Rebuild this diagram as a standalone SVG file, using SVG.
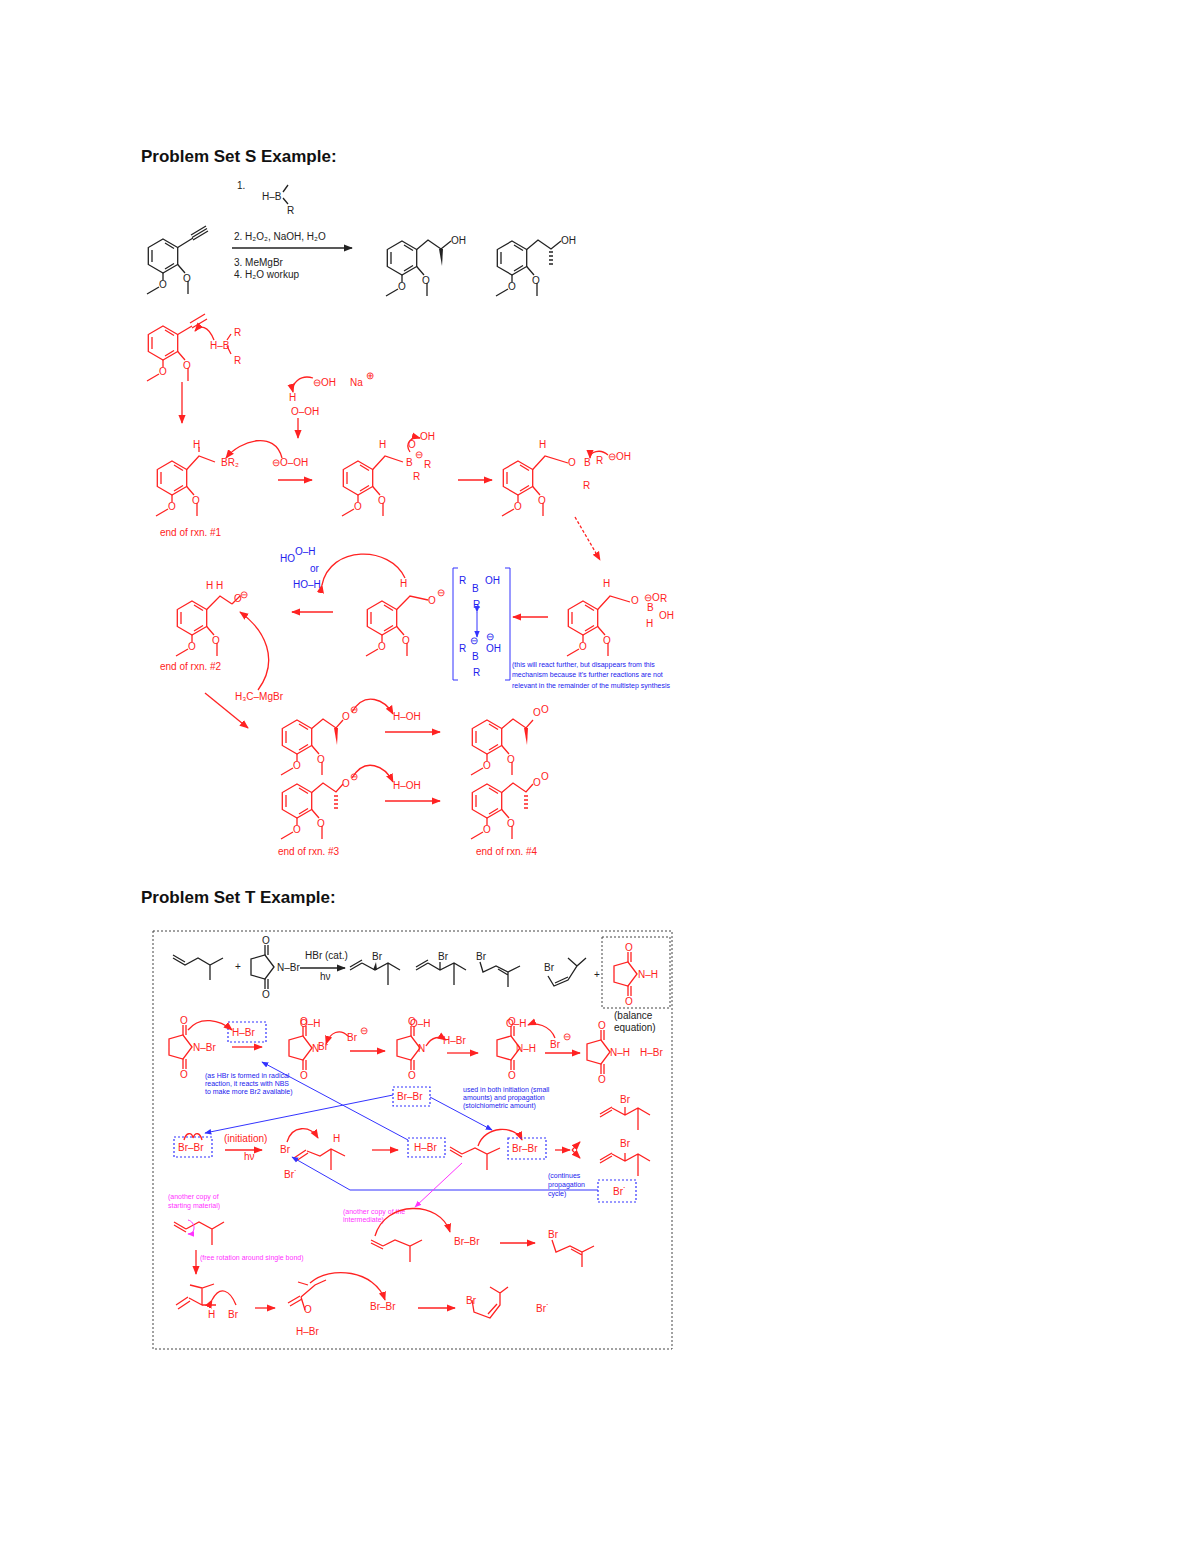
<svg xmlns="http://www.w3.org/2000/svg" width="1200" height="1553" viewBox="0 0 1200 1553">
<style>
text{font-family:"Liberation Sans",Arial,sans-serif;font-size:10px}
.h{font-size:17px;font-weight:bold;fill:#111}
.k{stroke:#222;fill:none;stroke-width:1.3}
.r{stroke:#f22;fill:none;stroke-width:1.3}
.b{stroke:#33f;fill:none;stroke-width:1}
.m{stroke:#f3f;fill:none;stroke-width:1}
.tk{fill:#222}.tr{fill:#f22}.tb{fill:#22e;font-size:7px}.tm{fill:#f3f;font-size:7px}
.bx{stroke:#33f;fill:none;stroke-dasharray:2 2;stroke-width:1.2}
</style>
<defs>
<marker id="ak" viewBox="0 0 10 10" refX="9" refY="5" markerWidth="7" markerHeight="7" orient="auto"><path d="M0,1 L10,5 L0,9 z" fill="#222"/></marker>
<marker id="arr" viewBox="0 0 10 10" refX="9" refY="5" markerWidth="7" markerHeight="7" orient="auto"><path d="M0,1 L10,5 L0,9 z" fill="#f22"/></marker>
<marker id="abb" viewBox="0 0 10 10" refX="9" refY="5" markerWidth="7" markerHeight="7" orient="auto"><path d="M0,1 L10,5 L0,9 z" fill="#33f"/></marker>
<marker id="amm" viewBox="0 0 10 10" refX="9" refY="5" markerWidth="7" markerHeight="7" orient="auto"><path d="M0,1 L10,5 L0,9 z" fill="#f3f"/></marker>
<g id="aryl" fill="none" stroke="currentColor" stroke-width="1.3">
<polygon points="0,-17 14.7,-8.5 14.7,8.5 0,17 -14.7,8.5 -14.7,-8.5"/>
<path d="M-11,-6 V6 M2,-13 L11,-7.5 M2,13 L11,7.5"/>
<path d="M14.7,8.5 L22,17 M25,25 V38 M0,17 V24 M-4,31 L-16,38"/>
<text x="20" y="26" fill="currentColor" stroke="none">O</text>
<text x="-4" y="32" fill="currentColor" stroke="none">O</text>
</g>
<g id="succ" fill="none" stroke="currentColor" stroke-width="1.3">
<polygon points="12,0 3,-12 -11,-8 -11,8 3,12"/>
<path d="M3,-12 V-22 M6,-12 V-22 M3,12 V22 M6,12 V22"/>
<text x="0" y="-23" fill="currentColor" stroke="none">O</text>
<text x="0" y="31" fill="currentColor" stroke="none">O</text>
</g>
</defs>

<text class="h" x="141" y="162">Problem Set S Example:</text>
<text class="h" x="141" y="903">Problem Set T Example:</text>

<!-- Problem S top reaction -->
<g id="sm" color="#222">
<use href="#aryl" x="163" y="256"/>
<path class="k" d="M177.7,247.5 L193,238 M191,235 L206,226 M193,240 L208,231 M192,237.5 L207,228.5"/>
</g>
<g id="reagent">
<text class="tk" x="237" y="189" font-size="8">1.</text>
<text class="tk" x="262" y="200">H–B</text>
<path class="k" d="M283,192 L288,185 M283,198 L288,204"/>
<text class="tk" x="287" y="214">R</text>
<text class="tk" x="234" y="240">2. H₂O₂, NaOH, H₂O</text>
<path class="k" d="M232,248 H352" marker-end="url(#ak)"/>
<text class="tk" x="234" y="266">3. MeMgBr</text>
<text class="tk" x="234" y="278">4. H₂O workup</text>
</g>
<g id="prod1" color="#222">
<use href="#aryl" x="402" y="258"/>
<path class="k" d="M416.7,249.5 L428,240 L441,249 L451,241"/>
<path d="M439,249 L443,249 L442,266 z" fill="#222"/>
<text class="tk" x="451" y="244">OH</text>
</g>
<g id="prod2" color="#222">
<use href="#aryl" x="512" y="258"/>
<path class="k" d="M526.7,249.5 L538,240 L551,249 L561,241"/>
<path class="k" d="M549,252 H553 M549,256 H553 M549,260 H553 M549,264 H553" stroke-width="1"/>
<text class="tk" x="561" y="244">OH</text>
</g>

<!-- Mechanism S -->
<g id="s1" color="#f22">
<use href="#aryl" x="163" y="343"/>
<path class="r" d="M177.7,334.5 L192,326 M190,323 L205,314 M192,328 L207,319"/>
<text class="tr" x="210" y="349">H–B</text>
<text class="tr" x="234" y="336">R</text><text class="tr" x="234" y="364">R</text>
<path class="r" d="M227,340 L231,334 M227,346 L231,354"/>
<path class="r" d="M214,340 C208,325 200,325 195,331" marker-end="url(#arr)"/>
</g>
<path class="r" d="M182,382 V423" marker-end="url(#arr)"/>
<g id="s_naoh">
<text class="tr" x="313" y="386">⊖OH</text><text class="tr" x="350" y="386">Na</text><text class="tr" x="366" y="379" font-size="8">⊕</text>
<path class="r" d="M313,378 C300,374 291,384 293,392" marker-end="url(#arr)"/>
<text class="tr" x="289" y="401">H</text>
<text class="tr" x="291" y="415">O–OH</text>
<path class="r" d="M298,418 V438" marker-end="url(#arr)"/>
</g>
<g id="s2" color="#f22">
<use href="#aryl" x="172" y="478"/>
<path class="r" d="M186.7,469.5 L199,456 L215,462 M199,452 V447"/>
<text class="tr" x="193" y="448">H</text><text class="tr" x="221" y="466">BR₂</text>
<text class="tr" x="272" y="466">⊖O–OH</text>
<path class="r" d="M282,458 C275,430 240,440 226,458" marker-end="url(#arr)"/>
<text class="tr" x="160" y="536">end of rxn. #1</text>
</g>
<path class="r" d="M278,480 H312" marker-end="url(#arr)"/>
<g id="s3" color="#f22">
<use href="#aryl" x="358" y="478"/>
<path class="r" d="M372.7,469.5 L385,456 L403,462"/>
<text class="tr" x="379" y="448">H</text><text class="tr" x="408" y="448">O</text><text class="tr" x="420" y="440">OH</text>
<text class="tr" x="406" y="466">B</text><text class="tr" x="415" y="458" font-size="8">⊖</text><text class="tr" x="424" y="468">R</text><text class="tr" x="413" y="480">R</text>
<path class="r" d="M410,452 C404,443 412,436 420,438" marker-end="url(#arr)"/>
</g>
<path class="r" d="M458,480 H492" marker-end="url(#arr)"/>
<g id="s4" color="#f22">
<use href="#aryl" x="518" y="478"/>
<path class="r" d="M532.7,469.5 L545,456 L568,463"/>
<text class="tr" x="539" y="448">H</text><text class="tr" x="568" y="466">O</text><text class="tr" x="584" y="466">B</text>
<text class="tr" x="596" y="464">R</text><text class="tr" x="608" y="460">⊖OH</text><text class="tr" x="583" y="489">R</text>
<path class="r" d="M608,455 C600,448 590,452 590,458" marker-end="url(#arr)"/>
</g>
<path class="r" d="M575,517 L600,560" stroke-dasharray="3 2" marker-end="url(#arr)"/>
<g id="s5" color="#f22">
<use href="#aryl" x="583" y="618"/>
<path class="r" d="M597.7,609.5 L610,596 L630,602"/>
<text class="tr" x="603" y="587">H</text><text class="tr" x="631" y="604">O</text><text class="tr" x="644" y="601">⊖O</text>
<text class="tr" x="647" y="611">B</text><text class="tr" x="660" y="602">R</text><text class="tr" x="659" y="619">OH</text><text class="tr" x="646" y="627">H</text>
</g>
<path class="r" d="M548,617 H513" marker-end="url(#arr)"/>
<g id="bracket">
<path class="b" d="M458,568 H453 V680 H458 M505,568 H510 V680 H505"/>
<text fill="#22e" x="459" y="584">R</text><text fill="#22e" x="472" y="592">B</text><text fill="#22e" x="485" y="584">OH</text><text fill="#22e" x="473" y="608">R</text>
<path class="b" d="M477,612 V637" marker-end="url(#abb)" marker-start="url(#abb)"/>
<text fill="#22e" x="459" y="652">R</text><text fill="#22e" x="470" y="644">⊖</text><text fill="#22e" x="486" y="640">⊖</text>
<text fill="#22e" x="486" y="652">OH</text><text fill="#22e" x="472" y="660">B</text><text fill="#22e" x="473" y="676">R</text>
<text class="tb" x="512" y="667">(this will react further, but disappears from this</text>
<text class="tb" x="512" y="677">mechanism because it's further reactions are not</text>
<text class="tb" x="512" y="688">relevant in the remainder of the multistep synthesis</text>
</g>
<g id="s_hooh">
<text fill="#22e" x="280" y="562">HO</text><text fill="#22e" x="295" y="555">O–H</text>
<text fill="#22e" x="310" y="572">or</text>
<text fill="#22e" x="293" y="588">HO–H</text>
<path class="r" d="M322,585 C330,545 390,545 405,578" marker-start="url(#arr)"/>
</g>
<g id="s6" color="#f22">
<use href="#aryl" x="382" y="618"/>
<path class="r" d="M396.7,609.5 L410,596 L428,600"/>
<text class="tr" x="400" y="587">H</text><text class="tr" x="428" y="604">O</text><text class="tr" x="437" y="596" font-size="8">⊖</text>
</g>
<path class="r" d="M333,612 H292" marker-end="url(#arr)"/>
<g id="s7" color="#f22">
<use href="#aryl" x="192" y="618"/>
<path class="r" d="M206.7,609.5 L220,596 L232,604 M232,604 L240,596"/>
<text class="tr" x="206" y="589">H H</text><text class="tr" x="234" y="602">O</text><text class="tr" x="240" y="598" font-size="8">⊖</text>
<text class="tr" x="160" y="670">end of rxn. #2</text>
<text class="tr" x="235" y="700">H₃C–MgBr</text>
<path class="r" d="M258,690 C280,660 265,630 240,612" marker-end="url(#arr)"/>
</g>
<path class="r" d="M205,693 L248,728" marker-end="url(#arr)"/>
<g id="s8" color="#f22">
<use href="#aryl" x="297" y="737"/>
<path class="r" d="M311.7,728.5 L323,719 L336,728 L343,720"/>
<path d="M334,728 L338,728 L337,745 z" fill="#f22"/>
<text class="tr" x="342" y="720">O</text><text class="tr" x="350" y="713" font-size="8">⊖</text>
<path class="r" d="M352,712 C365,690 385,700 393,714" marker-end="url(#arr)"/>
<text class="tr" x="393" y="720">H–OH</text>
<path class="r" d="M385,732 H440" marker-end="url(#arr)"/>
</g>
<g id="s9" color="#f22">
<use href="#aryl" x="487" y="737"/>
<path class="r" d="M501.7,728.5 L513,719 L526,728 L533,720"/>
<path d="M524,728 L528,728 L527,745 z" fill="#f22"/>
<text class="tr" x="533" y="716">O</text><text class="tr" x="541" y="713">O</text>
</g>
<g id="s10" color="#f22">
<use href="#aryl" x="297" y="801"/>
<path class="r" d="M311.7,792.5 L323,783 L336,792 L343,784"/>
<path class="r" d="M334,796 H338 M334,800 H338 M334,804 H338 M334,808 H338" stroke-width="1"/>
<text class="tr" x="342" y="787">O</text><text class="tr" x="350" y="780" font-size="8">⊖</text>
<path class="r" d="M352,778 C365,756 385,766 393,782" marker-end="url(#arr)"/>
<text class="tr" x="393" y="789">H–OH</text>
<path class="r" d="M385,801 H440" marker-end="url(#arr)"/>
<text class="tr" x="278" y="855">end of rxn. #3</text>
</g>
<g id="s11" color="#f22">
<use href="#aryl" x="487" y="801"/>
<path class="r" d="M501.7,792.5 L513,783 L526,792 L533,784"/>
<path class="r" d="M524,796 H528 M524,800 H528 M524,804 H528 M524,808 H528" stroke-width="1"/>
<text class="tr" x="533" y="786">O</text><text class="tr" x="541" y="780">O</text>
<text class="tr" x="476" y="855">end of rxn. #4</text>
</g>

<!-- Problem T -->
<rect x="153" y="931" width="519" height="418" fill="none" stroke="#444" stroke-dasharray="2 2"/>
<rect x="602" y="937" width="68" height="71" fill="none" stroke="#444" stroke-dasharray="2 2"/>
<g id="t_top" color="#222">
<path class="k" d="M173,955 L185,962 M173,958 L185,965 L198,958 L210,965 L223,958 M210,965 V980"/>
<text class="tk" x="235" y="970" font-size="7">+</text>
<use href="#succ" x="262" y="967"/>
<text class="tk" x="277" y="971">N–Br</text>
<path class="k" d="M300,968 H345" marker-end="url(#ak)"/>
<text class="tk" x="305" y="959" font-size="8">HBr (cat.)</text><text class="tk" x="320" y="980" font-size="8">hν</text>
<path class="k" d="M350,970 L362,963 M350,967 L362,960 M362,963 L375,970 L388,963 L400,970 M388,963 V985"/>
<path d="M373,970 L377,970 L376,962 z" fill="#222"/><text class="tk" x="372" y="960">Br</text>
<path class="k" d="M416,970 L428,963 M416,967 L428,960 M428,963 L440,970 L454,963 L466,970 M454,963 V985 M440,970 V962"/>
<text class="tk" x="438" y="960">Br</text>
<path class="k" d="M480,962 L483,972 L496,966 L508,972 L520,966 M498,969 L508,975 M508,972 V987"/><text class="tk" x="476" y="960">Br</text>
<path class="k" d="M548,976 L554,986 L568,980 L577,966 L586,958 M555,983 L568,977 M577,966 L568,958"/><text class="tk" x="544" y="971">Br</text>
<text class="tk" x="594" y="978">+</text>
</g>
<g id="t_prod" color="#f22">
<use href="#succ" x="625" y="974"/>
<text class="tr" x="638" y="978">N–H</text>
<text class="tk" x="614" y="1019" font-size="9">(balance</text><text class="tk" x="614" y="1031" font-size="9">equation)</text>
</g>
<g id="t_r2" color="#f22">
<use href="#succ" x="180" y="1047"/>
<text class="tr" x="193" y="1051">N–Br</text>
<rect class="bx" x="228" y="1022" width="38" height="20"/><text class="tr" x="232" y="1036">H–Br</text>
<path class="r" d="M188,1030 C200,1015 220,1020 232,1030" marker-end="url(#arr)"/>
<path class="r" d="M232,1047 H262" marker-end="url(#arr)"/>
<use href="#succ" x="300" y="1048"/>
<text class="tr" x="300" y="1027">O–H</text><text class="tr" x="312" y="1052">N</text><text class="tr" x="318" y="1050">Br</text>
<text class="tr" x="347" y="1041">Br</text><text class="tr" x="360" y="1034" font-size="8">⊖</text>
<path class="r" d="M348,1036 C340,1028 330,1032 326,1044" marker-end="url(#arr)"/>
<path class="r" d="M350,1051 H385" marker-end="url(#arr)"/>
<use href="#succ" x="408" y="1048"/>
<text class="tr" x="410" y="1027">O–H</text><text class="tr" x="418" y="1052">N</text>
<text class="tr" x="443" y="1044">H–Br</text>
<path class="r" d="M426,1046 C432,1036 440,1036 446,1040" marker-end="url(#arr)"/>
<path class="r" d="M447,1053 H478" marker-end="url(#arr)"/>
<use href="#succ" x="508" y="1048"/>
<text class="tr" x="506" y="1027">O–H</text><text class="tr" x="516" y="1052">N–H</text>
<text class="tr" x="550" y="1048">Br</text><text class="tr" x="563" y="1040" font-size="8">⊖</text>
<path class="r" d="M555,1038 C550,1025 535,1022 528,1025" marker-end="url(#arr)"/>
<path class="r" d="M545,1053 H580" marker-end="url(#arr)"/>
<use href="#succ" x="598" y="1052"/>
<text class="tr" x="610" y="1056">N–H</text><text class="tr" x="640" y="1056">H–Br</text>
</g>
<g id="t_notes">
<text class="tb" x="205" y="1078">(as HBr is formed in radical</text>
<text class="tb" x="205" y="1086">reaction, it reacts with NBS</text>
<text class="tb" x="205" y="1094">to make more Br2 available)</text>
<rect class="bx" x="393" y="1087" width="37" height="19"/><text class="tr" x="397" y="1100">Br–Br</text>
<text class="tb" x="463" y="1092">used in both initiation (small</text>
<text class="tb" x="463" y="1100">amounts) and propagation</text>
<text class="tb" x="463" y="1108">(stoichiometric amount)</text>
</g>
<g id="t_r3" color="#f22">
<rect class="bx" x="174" y="1137" width="38" height="20"/><text class="tr" x="178" y="1151">Br–Br</text>
<path class="r" d="M184,1140 C186,1132 192,1132 193,1138 C195,1132 200,1132 202,1140"/>
<text class="tr" x="224" y="1142">(initiation)</text><text class="tr" x="244" y="1160">hν</text>
<path class="r" d="M225,1150 H262" marker-end="url(#arr)"/>
<text class="tr" x="280" y="1153">Br</text><text class="tr" x="284" y="1178">Br˙</text>
<path class="r" d="M294,1158 L306,1150 M296,1161 L308,1153 M307,1151 L320,1156 L331,1149 L345,1156 M331,1149 V1170"/>
<text class="tr" x="333" y="1142">H</text>
<path class="r" d="M287,1142 C292,1125 310,1125 318,1138" marker-end="url(#arr)"/>
<path class="r" d="M372,1150 H398" marker-end="url(#arr)"/>
<rect class="bx" x="408" y="1138" width="37" height="19"/><text class="tr" x="414" y="1151">H–Br</text>
<path class="r" d="M450,1147 L462,1154 M450,1150 L462,1157 M462,1154 L475,1148 L487,1154 L500,1148 M487,1154 V1170"/>
<path class="r" d="M478,1146 C485,1125 515,1125 522,1140" marker-end="url(#arr)"/>
<rect class="bx" x="508" y="1138" width="38" height="21"/><text class="tr" x="512" y="1152">Br–Br</text>
<path class="r" d="M555,1150 H570" marker-end="url(#arr)"/>
<path class="r" d="M572,1150 L580,1142" marker-end="url(#arr)"/><path class="r" d="M572,1150 L580,1158" marker-end="url(#arr)"/>
<path class="r" d="M600,1117 L612,1110 M600,1114 L612,1107 M612,1108 L625,1115 L638,1108 L650,1115 M638,1108 V1130 M625,1115 V1107"/>
<text class="tr" x="620" y="1103">Br</text>
<path class="r" d="M600,1163 L612,1156 M600,1160 L612,1153 M612,1154 L625,1161 L638,1154 L650,1161 M638,1154 V1176 M625,1161 V1153"/>
<text class="tr" x="620" y="1147">Br</text>
<rect class="bx" x="598" y="1180" width="38" height="22"/><text class="tr" x="613" y="1195">Br˙</text>
<text class="tb" x="548" y="1178">(continues</text><text class="tb" x="548" y="1187">propagation</text><text class="tb" x="548" y="1196">cycle)</text>
</g>
<g id="connectors">
<path class="b" d="M393,1095 L205,1133" marker-end="url(#abb)"/>
<path class="b" d="M430,1097 L492,1130" marker-end="url(#abb)"/>
<path class="b" d="M408,1140 L262,1062" marker-end="url(#abb)"/>
<path class="b" d="M598,1190 H350 L292,1157" marker-end="url(#abb)"/>
<path class="m" d="M462,1163 L415,1207" marker-end="url(#amm)"/>
<path class="r" d="M196,1250 V1274" marker-end="url(#arr)"/>
</g>
<g id="t_r4" color="#f22">
<text class="tm" x="168" y="1199">(another copy of</text><text class="tm" x="168" y="1208">starting material)</text>
<path class="r" d="M174,1222 L186,1229 M174,1225 L186,1232 M186,1229 L199,1222 L212,1229 L224,1222 M212,1229 V1245"/>
<path class="m" d="M188,1220 C196,1222 196,1234 188,1234" marker-end="url(#amm)"/>
<text class="tm" x="200" y="1260">(free rotation around single bond)</text>
<text class="tm" x="343" y="1214">(another copy of the</text><text class="tm" x="343" y="1222">intermediate)</text>
<path class="r" d="M371,1240 L383,1246 M371,1243 L383,1249 M383,1246 L395,1240 L410,1246 L422,1240 M410,1246 V1262"/>
<path class="r" d="M375,1236 C385,1200 440,1200 450,1232" marker-end="url(#arr)"/>
<text class="tr" x="454" y="1245">Br–Br</text>
<path class="r" d="M500,1243 H535" marker-end="url(#arr)"/>
<path class="r" d="M552,1240 L556,1252 L570,1246 L582,1252 L594,1246 M571,1249 L582,1255 M582,1252 V1267"/><text class="tr" x="548" y="1238">Br</text>
</g>
<g id="t_r5" color="#f22">
<path class="r" d="M176,1305 L188,1297 M178,1309 L190,1301 M189,1298 L202,1305 V1288 M190,1285 L202,1288 L214,1284 M202,1305 L216,1305"/>
<text class="tr" x="208" y="1318">H</text><text class="tr" x="228" y="1318">Br</text>
<path class="r" d="M212,1300 C220,1285 230,1290 236,1305" marker-start="url(#arr)"/>
<path class="r" d="M255,1308 H275" marker-end="url(#arr)"/>
<path class="r" d="M288,1303 L300,1296 M290,1306 L302,1299 M301,1297 L305,1310 M301,1297 L315,1285 L326,1280 M308,1285 L298,1282"/>
<text class="tr" x="304" y="1313">O</text>
<path class="r" d="M310,1283 C330,1265 375,1270 385,1300" marker-end="url(#arr)"/>
<text class="tr" x="370" y="1310">Br–Br</text>
<text class="tr" x="296" y="1335">H–Br</text>
<path class="r" d="M418,1308 H455" marker-end="url(#arr)"/>
<path class="r" d="M472,1300 L474,1312 L490,1318 L500,1305 L500,1293 M488,1314 L497,1304 M500,1293 L508,1287 M500,1293 L490,1287"/>
<text class="tr" x="466" y="1304">Br</text>
<text class="tr" x="536" y="1312">Br˙</text>
</g>
</svg>
